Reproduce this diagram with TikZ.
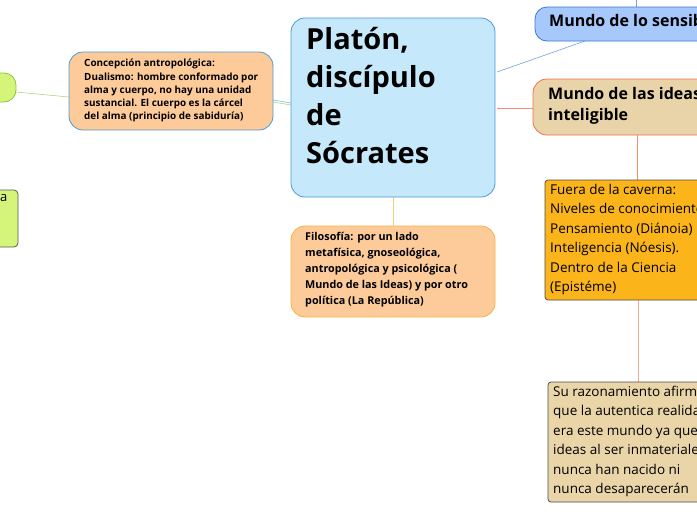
\documentclass[tikz,border=0pt]{standalone}
\usepackage{fontspec}
\setmainfont{Open Sans}
\definecolor{cblue}{HTML}{C5E8FA}
\definecolor{cblueb}{HTML}{4A9AD8}
\definecolor{corange}{HTML}{FDCB9A}
\definecolor{corangeb}{HTML}{F5B342}
\definecolor{cgreen}{HTML}{D5F57A}
\definecolor{cgreenb}{HTML}{8CC63F}
\definecolor{csens}{HTML}{A7C8FB}
\definecolor{csensb}{HTML}{3A78D8}
\definecolor{cidea}{HTML}{E8D4A8}
\definecolor{cideab}{HTML}{F0704A}
\definecolor{cfuera}{HTML}{FBB41A}
\definecolor{csu}{HTML}{EAD5A9}
\begin{document}
\begin{tikzpicture}[x=1pt,y=-1pt,
  box/.style={draw,line width=0.8pt,rounded corners=#1},
  lbl/.style={anchor=north west,align=left,inner sep=0pt}]
\useasboundingbox (0,0) rectangle (697,520);
\clip (0,0) rectangle (697,520);
% connectors
\draw[cblueb!70,line width=0.6pt] (273,100) -- (291,103);
\draw[cgreenb!70,line width=0.6pt] (273,102) -- (291,105);
\draw[cgreenb!70,line width=0.6pt] (69,97) -- (16,92);
\draw[csensb!70,line width=0.6pt] (497,72) -- (585,41);
\draw[csensb!70,line width=0.6pt] (636,0) -- (636,7);
\draw[cideab!80,line width=0.6pt] (497,108) -- (533,108);
\draw[cideab!80,line width=0.6pt] (637,135) -- (637,180);
\draw[cideab!60,line width=0.6pt] (638,300) -- (638,382);
\draw[corangeb!70,line width=0.6pt] (393,197) -- (393,226);
% central
\draw[box=14pt,fill=cblue,draw=cblueb] (291,18) rectangle (495,197);
\node[lbl,font=\bfseries\fontsize{29}{38}\selectfont] (c) at (306,27) {Platón,\\discípulo\\de\\Sócrates};
% concepcion
\draw[box=14pt,fill=corange,draw=cblueb] (69,52) rectangle (273,130);
\node[lbl,font=\bfseries\fontsize{9.9}{13.3}\selectfont] (a) at (84,59) {Concepción antropológica:\\Dualismo: hombre conformado por\\alma y cuerpo, no hay una unidad\\sustancial. El cuerpo es la cárcel\\del alma (principio de sabiduría)};
% green
\draw[box=12pt,fill=cgreen,draw=cgreenb] (-30,73) rectangle (16,102);
\draw[box=4pt,fill=cgreen,draw=gray!70!black] (-30,190) rectangle (18,247);
\node[lbl,font=\fontsize{13}{17}\selectfont] (g) at (0,194) {a};
% filosofia
\draw[box=14pt,fill=corange,draw=corangeb] (291,226) rectangle (495,317);
\node[lbl,font=\bfseries\fontsize{10.8}{16}\selectfont] (f) at (305,232) {Filosofía: por un lado\\metafísica, gnoseológica,\\antropológica y psicológica (\\Mundo de las Ideas) y por otro\\política (La República)};
% sensible
\draw[box=12pt,fill=csens,draw=csensb] (535,7) rectangle (740,41);
\node[lbl,font=\bfseries\fontsize{16}{19}\selectfont] (s) at (549,14) {Mundo de lo sensible};
% ideas
\draw[box=14pt,fill=cidea,draw=cideab] (533,79) rectangle (740,135);
\node[lbl,font=\bfseries\fontsize{16}{21}\selectfont] (i) at (548,87) {Mundo de las ideas\\inteligible};
% fuera
\draw[box=3pt,fill=cfuera,draw=gray!60!black] (545,180) rectangle (740,300);
\node[lbl,font=\fontsize{13.5}{19.4}\selectfont] (fu) at (550,184) {Fuera de la caverna:\\Niveles de conocimiento:\\Pensamiento (Diánoia)\\Inteligencia (Nóesis).\\Dentro de la Ciencia\\(Epistéme)};
% su
\draw[box=3pt,fill=csu,draw=gray!60!black] (548,382) rectangle (740,502);
\node[lbl,font=\fontsize{13.5}{19.4}\selectfont] (su) at (553,386) {Su razonamiento afirmaba\\que la autentica realidad\\era este mundo ya que las\\ideas al ser inmateriales\\nunca han nacido ni\\nunca desaparecerán};
\end{tikzpicture}
\end{document}
